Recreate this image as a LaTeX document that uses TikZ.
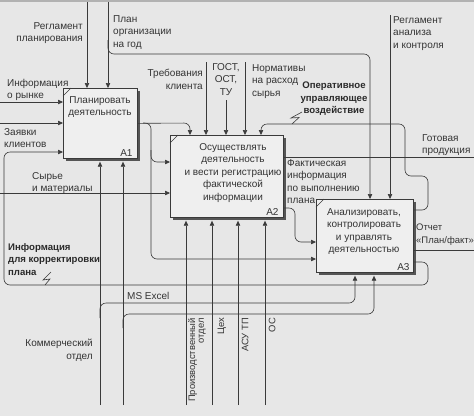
\documentclass[tikz,border=0pt]{standalone}
\usepackage{fontspec}
\setmainfont{Liberation Sans}
\usetikzlibrary{arrows.meta,shadows}
\definecolor{bgc}{HTML}{E7E7E7}
\definecolor{boxc}{HTML}{EFEFEF}
\definecolor{ink}{HTML}{3A3A3A}
\definecolor{txt}{HTML}{343434}
\definecolor{shad}{HTML}{555555}
\begin{document}
\begin{tikzpicture}[x=1pt,y=-1pt,
  conn/.style={draw=ink, line width=0.6pt, rounded corners=6pt},
  arr/.style={conn, -{Triangle[length=5pt,width=4.4pt]}},
  fbox/.style={draw=ink, fill=boxc, line width=0.7pt, anchor=north west, inner sep=0pt,
    general shadow={fill=shad, shadow xshift=3pt, shadow yshift=-3pt}},
  lbl/.style={font=\fontsize{10}{12.5}\selectfont, text=txt, inner sep=0pt},
  blbl/.style={font=\fontsize{9.6}{12.5}\selectfont\bfseries, text=txt!80!black, inner sep=0pt},
  rlbl/.style={font=\fontsize{9.4}{8.8}\selectfont, text=txt, inner sep=0pt, rotate=90, anchor=north east},
  sq/.style={draw=ink, line width=0.6pt}
]
\useasboundingbox (0,0) rectangle (474,416);
\clip (0,0) rectangle (474,416);
\fill[bgc] (0,0) rectangle (474,416);
\draw[gray!60, line width=1.5pt] (0,1) -- (474,1);

% boxes
\node[fbox, minimum width=74pt, minimum height=70pt] (A1) at (63,88) {};
\node[fbox, minimum width=113pt, minimum height=82pt] (A2) at (170,135) {};
\node[fbox, minimum width=97pt, minimum height=73pt] (A3) at (316,199) {};
\foreach \b in {A1,A2,A3}{
  \draw[ink, line width=0.6pt] ([shift={(0,8)}]\b.north west) -- ([shift={(8,0)}]\b.north west);
}
\node[lbl, anchor=north, align=center] (A1t) at (100,96) {Планировать\\деятельность};
\node[lbl, anchor=north, align=center] (A2t) at (233,143) {Осуществлять\\деятельность\\и вести регистрацию\\фактической\\информации};
\node[lbl, anchor=north, align=center] (A3t) at (364,208) {Анализировать,\\контролировать\\и управлять\\деятельностью};
\node[lbl, anchor=south east] (A1n) at ([shift={(-5,-2)}]A1.south east) {A1};
\node[lbl, anchor=south east] (A2n) at ([shift={(-5,-2)}]A2.south east) {A2};
\node[lbl, anchor=south east] (A3n) at ([shift={(-4,-2)}]A3.south east) {A3};

% free ends
\coordinate (t1) at (87,2);
\coordinate (t2) at (108,2);
\coordinate (b1) at (108,40);
\coordinate (t3) at (206,62);
\coordinate (t4) at (226,100);
\coordinate (t5) at (245,62);
\coordinate (t6) at (390,15);
\coordinate (i1) at (0,102);
\coordinate (i2) at (0,123);
\coordinate (i3) at (0,193);
\coordinate (o1) at (479,157);
\coordinate (o2) at (479,250);
\coordinate (m1) at (100,405);
\coordinate (m2) at (123,405);
\coordinate (b2) at (100,318);
\coordinate (b3) at (123,328);
\coordinate (b4) at (143,123);
\coordinate (b5) at (151,150);

% A1 controls
\draw[arr] (t1) -- (t1 |- A1.north);
\draw[arr] (t2) -- (t2 |- A1.north);
\draw[arr] (b1) -- (108,54) -- (370,54) -- (370,0 |- A3.north);
% A1 inputs
\draw[arr] (i1) -- (i1 -| A1.west);
\draw[arr] (i2) -- (i2 -| A1.west);
% A1 mechanisms
\draw[arr] (m1) -- ([yshift=-3pt]m1 |- A1.south);
\draw[arr] (m2) -- ([yshift=-3pt]m2 |- A1.south);
\draw[arr] (b2) -- (100,303) -- (355,303) -- ([yshift=-3pt]355,0 |- A3.south);
\draw[arr] (b3) -- (123,314) -- (374,314) -- ([yshift=-3pt]374,0 |- A3.south);
% A1 output
\draw[arr] (A1.east) -- (190,123) -- (190,0 |- A2.north);
\draw[arr] (b4) -- (151,123) -- (151,162) -- (151,162 -| A2.west);
\draw[arr] (b5) -- (151,259) -- (151,259 -| A3.west);
% A2 controls
\draw[arr] (t3) -- (t3 |- A2.north);
\draw[arr] (t4) -- (t4 |- A2.north);
\draw[arr] (t5) -- (t5 |- A2.north);
% A2 input
\draw[arr] (i3) -- (i3 -| A2.west);
% A2 mechanisms
\foreach \x in {186,212,238,265}{
  \coordinate (mm\x) at (\x,405);
  \draw[arr] (mm\x) -- ([yshift=-3pt]mm\x |- A2.south);
}
% A2 outputs
\draw[arr] (A2.east |- o1) -- (o1);
\draw[arr] (A2.east |- 0,208) -- (295,208) -- (295,242) -- (295,242 -| A3.west);
% A3 controls
\draw[arr] (t6) -- (t6 |- A3.north);
% A3 outputs
\draw[arr] (A3.east |- o2) -- (o2);
\draw[arr] (A3.east |- 0,210) -- (428,210) -- (428,176) -- (405,176) -- (405,124) -- (261,124) -- (261,0 |- A2.north);
\draw[arr] (A3.east |- 0,262) -- (428,262) -- (428,285) -- (4,285) -- (4,152) -- (4,152 -| A1.west);

% squiggles
\draw[sq] (302,112) -- (291,118) -- (299,117.5) -- (292,124);
\draw[sq] (51,272) -- (43,280) -- (50,279) -- (45,285);

% labels
\node[lbl, anchor=north east, align=right] (l1) at (83,22) {Регламент\\планирования};
\node[lbl, anchor=north west, align=left] (l2) at (113,15) {План\\организации\\на год};
\node[lbl, anchor=north west, align=left] (l3) at (7,79) {Информация\\о рынке};
\node[lbl, anchor=north west, align=left] (l4) at (4,128) {Заявки\\клиентов};
\node[lbl, anchor=north west, align=left] (l5) at (32,172) {Сырье\\и материалы};
\node[lbl, anchor=north east, align=right] (l6) at (203,69) {Требования\\клиента};
\node[lbl, anchor=north, align=center] (l7) at (226,63) {ГОСТ,\\ОСТ,\\ТУ};
\node[lbl, anchor=north west, align=left] (l8) at (252,64) {Нормативы\\на расход\\сырья};
\node[blbl, anchor=north, align=center] (l9) at (334,82) {Оперативное\\управляющее\\воздействие};
\node[lbl, anchor=north west, align=left] (l10) at (393,16) {Регламент\\анализа\\и контроля};
\node[lbl, anchor=north west, align=left] (l11) at (422,134) {Готовая\\продукция};
\node[lbl, anchor=north west, align=left] (l12) at (287,159) {Фактическая\\информация\\по выполнению\\плана};
\node[lbl, anchor=north west, align=left, font=\fontsize{9.5}{12.5}\selectfont] (l13) at (416,224) {Отчет\\«План/факт»};
\node[blbl, anchor=north west, align=left] (l14) at (8,243) {Информация\\для корректировки\\плана};
\node[lbl, anchor=north west] (l15) at (127,292) {MS Excel};
\node[lbl, anchor=north east, align=right] (l16) at (93,339) {Коммерческий\\отдел};
\node[rlbl, align=right] (r1) at (188,318) {Производственный\\отдел};
\node[rlbl] (r2) at (217.5,318) {Цех};
\node[rlbl] (r3) at (241.5,318) {АСУ ТП};
\node[rlbl] (r4) at (268.5,318) {ОС};
\end{tikzpicture}
\end{document}
